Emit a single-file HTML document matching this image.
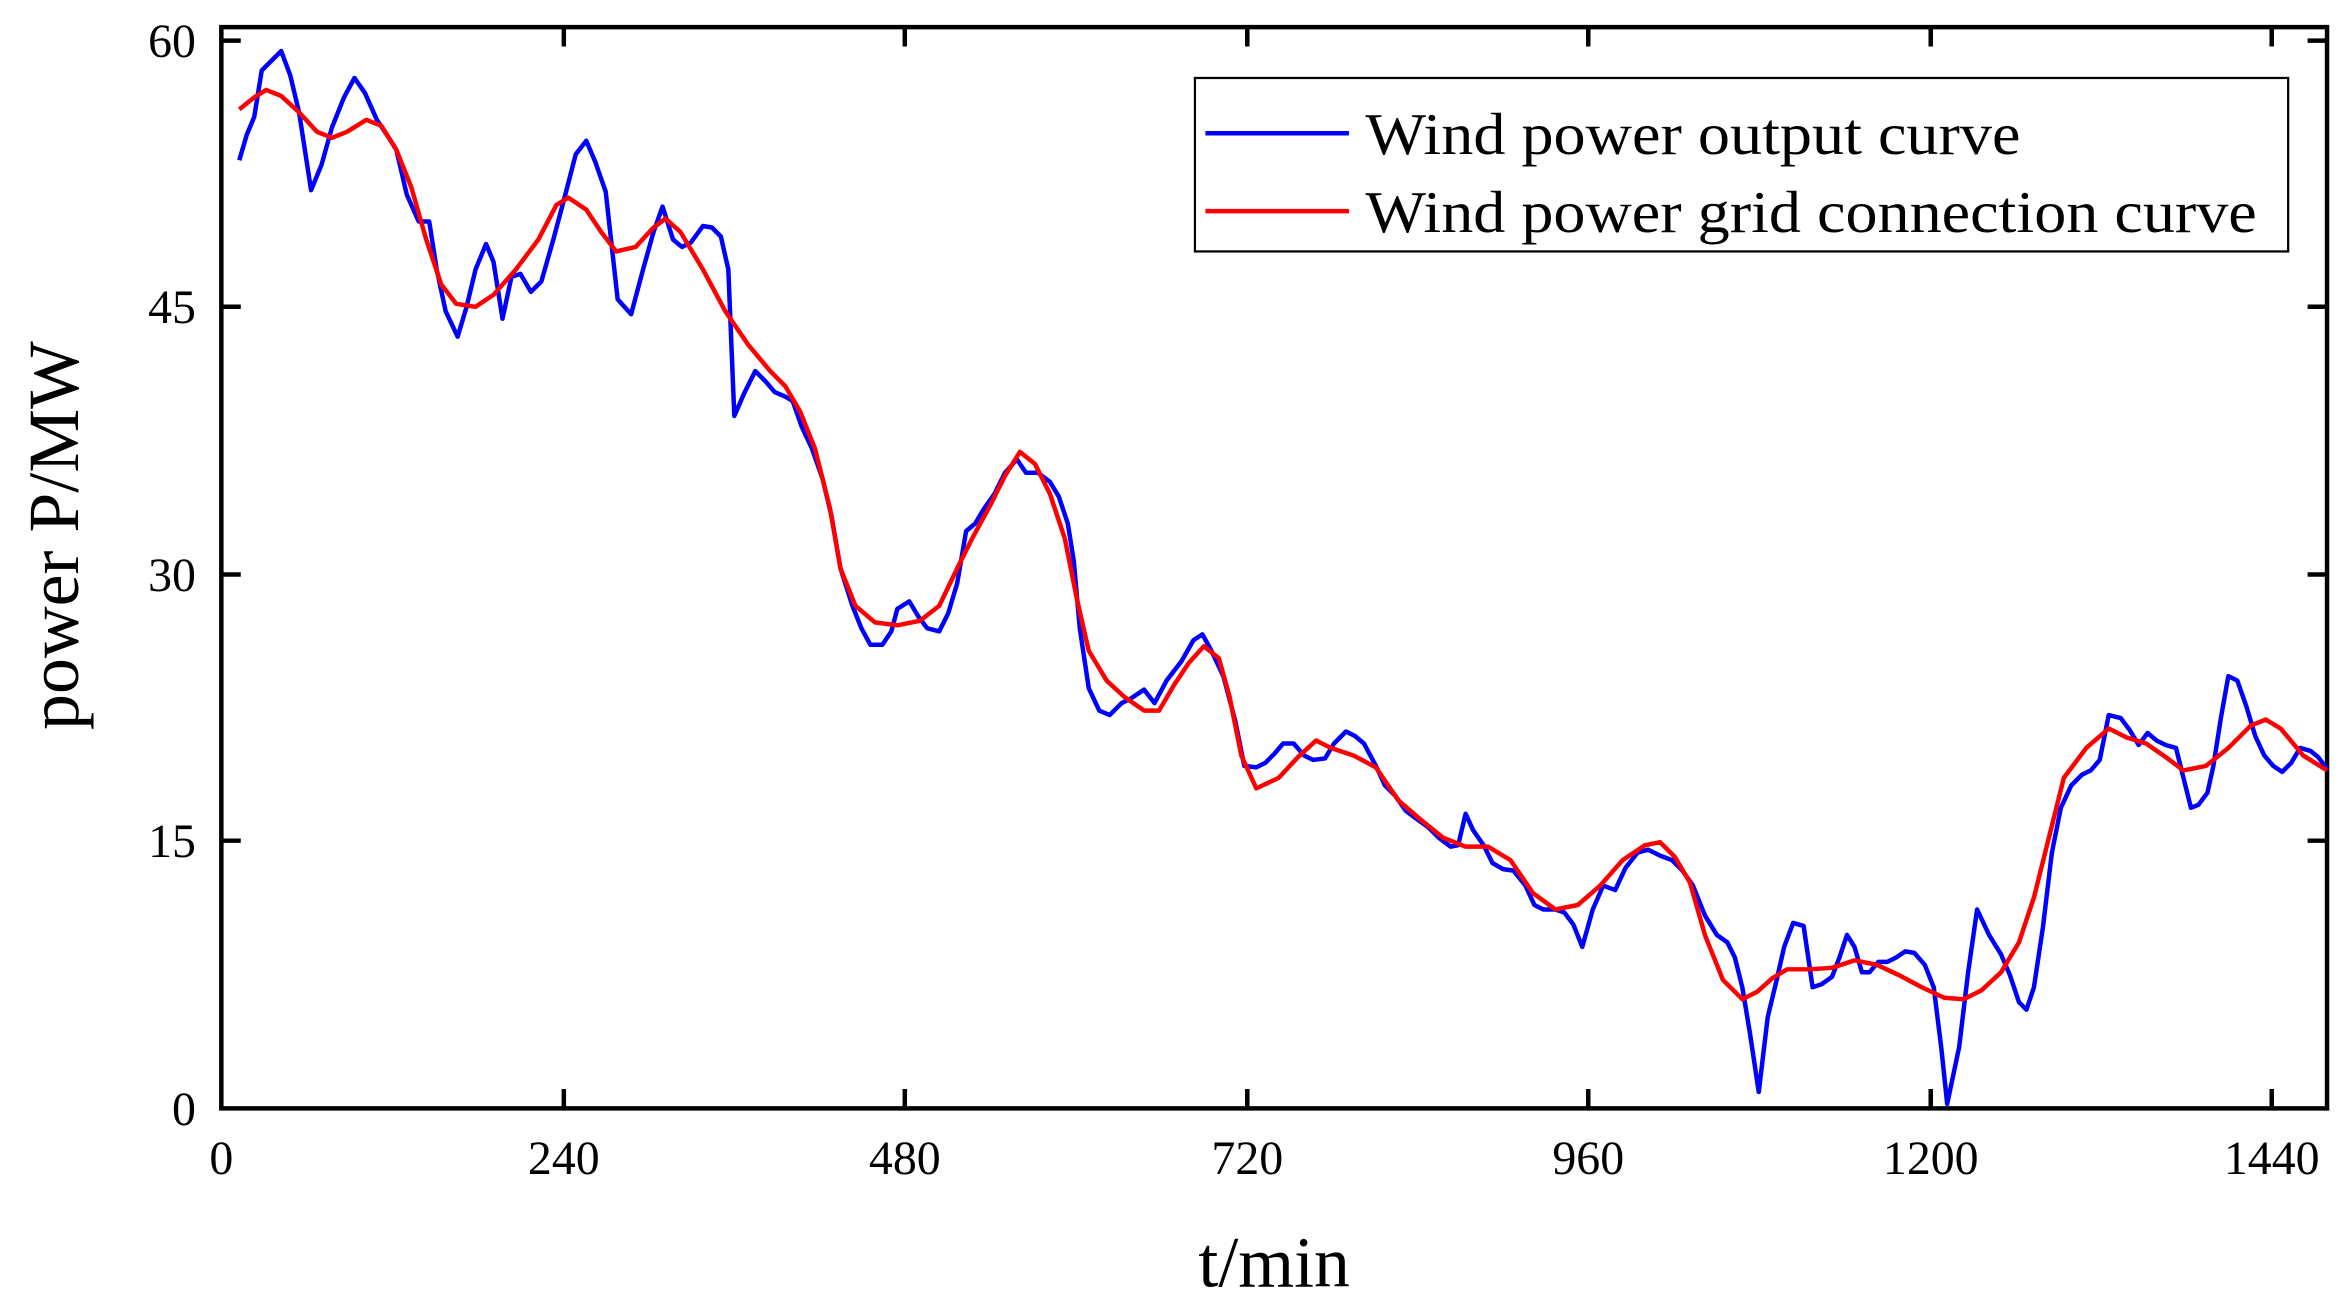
<!DOCTYPE html>
<html><head><meta charset="utf-8"><style>html,body{margin:0;padding:0;background:#fff}svg{display:block}</style></head>
<body>
<svg width="2345" height="1306" viewBox="0 0 1568 873" xmlns="http://www.w3.org/2000/svg" font-family="Liberation Serif, serif">
<rect width="1568" height="873" fill="#fff"/>
<g stroke="#000" stroke-width="3">
<rect x="148" y="18" width="1408" height="723" fill="none"/>
<path d="M377,741v-13M605,741v-13M834,741v-13M1062,741v-13M1291,741v-13M1519,741v-13M377,18v13M605,18v13M834,18v13M1062,18v13M1291,18v13M1519,18v13M148,562h13M148,384h13M148,205h13M148,27h13M1556,562h-13M1556,384h-13M1556,205h-13M1556,27h-13"/>
</g>
<g font-size="32" text-anchor="middle" fill="#000">
<text x="148" y="785">0</text><text x="377" y="785">240</text><text x="605" y="785">480</text><text x="834" y="785">720</text><text x="1062" y="785">960</text><text x="1291" y="785">1200</text><text x="1519" y="785">1440</text>
</g>
<g font-size="32" text-anchor="end" fill="#000">
<text x="131" y="752">0</text><text x="131" y="573">15</text><text x="131" y="395">30</text><text x="131" y="216">45</text><text x="131" y="38">60</text>
</g>
<text x="852" y="860" font-size="48" text-anchor="middle">t/min</text>
<text transform="translate(52,358) rotate(-90)" font-size="48" text-anchor="middle">power P/MW</text>
<polyline fill="none" stroke="#0000ff" stroke-width="3" stroke-linejoin="round" points="160,107 165,90 170,78 175,47 182,40 188,34 194,50 200,75 208,127 215,110 222,85 230,65 237,52 244,62 252,80 260,92 265,100 272,130 280,148 287,148 292,180 298,208 306,225 312,205 318,180 325,163 330,175 336,213 342,185 348,183 355,195 362,188 370,160 378,130 385,103 392,94 398,108 405,128 413,200 422,210 430,180 437,155 443,138 450,160 456,165 462,162 470,151 476,152 482,158 487,180 491,278 498,262 505,248 512,255 518,262 525,265 530,268 536,285 543,300 550,320 556,345 562,380 570,405 576,420 582,431 590,431 596,422 600,407 608,402 614,412 620,420 628,422 634,410 640,390 646,355 652,350 658,340 665,330 672,316 680,307 686,316 694,316 702,322 708,332 714,350 718,375 722,420 728,460 735,475 742,478 750,470 756,467 765,461 772,470 780,455 790,442 798,428 804,424 810,435 818,452 826,482 832,512 840,513 846,510 852,504 858,497 865,497 872,505 878,508 886,507 892,497 900,489 906,492 912,497 920,512 926,525 933,532 940,542 948,548 955,553 962,560 970,566 975,565 980,544 985,555 992,565 998,577 1005,581 1012,582 1020,592 1026,605 1032,608 1040,608 1046,610 1052,618 1058,633 1065,608 1072,592 1080,595 1087,580 1095,570 1102,568 1110,572 1118,575 1125,582 1132,592 1140,612 1148,625 1155,630 1160,640 1165,660 1170,690 1176,730 1182,680 1188,655 1193,633 1199,617 1206,619 1212,660 1218,658 1225,653 1230,640 1235,625 1240,633 1245,650 1250,650 1256,643 1262,643 1268,640 1274,636 1280,637 1287,645 1293,660 1298,700 1302,738 1310,700 1316,650 1322,608 1330,625 1338,638 1344,652 1350,670 1355,675 1360,660 1366,620 1372,570 1378,540 1385,525 1392,518 1398,515 1404,508 1410,478 1418,480 1424,488 1430,498 1436,490 1442,495 1448,498 1455,500 1460,520 1465,540 1470,538 1476,530 1480,512 1485,480 1490,452 1496,455 1502,472 1508,492 1514,505 1520,512 1526,516 1532,510 1538,500 1545,502 1550,506 1556,514"/>
<polyline fill="none" stroke="#ff0000" stroke-width="3" stroke-linejoin="round" points="160,73 170,65 178,60 188,64 200,75 212,88 222,92 232,88 245,80 255,84 265,100 275,125 285,160 295,190 305,203 318,205 330,197 345,180 360,160 372,137 380,132 392,140 402,155 412,168 425,165 437,152 445,146 455,155 470,180 485,208 500,230 515,248 525,258 535,275 545,300 555,340 562,380 572,405 585,416 600,418 615,415 628,405 640,380 650,360 662,338 672,318 682,302 692,310 702,330 712,360 720,400 728,435 740,455 752,466 765,475 775,475 785,458 795,443 805,432 815,440 822,465 830,505 840,527 855,520 868,506 880,495 890,500 905,505 920,513 935,535 950,548 965,560 980,566 995,566 1010,575 1025,597 1040,608 1055,605 1070,592 1085,575 1100,565 1110,563 1120,573 1130,590 1140,625 1152,655 1165,668 1175,663 1185,654 1195,648 1210,648 1225,647 1240,642 1255,645 1270,652 1285,660 1300,667 1313,668 1325,662 1338,650 1350,630 1360,600 1370,560 1380,520 1395,500 1410,487 1422,493 1435,497 1448,506 1460,515 1475,512 1490,500 1505,485 1515,481 1525,487 1540,505 1556,515"/>
<rect x="799" y="52" width="731" height="116" fill="#fff" stroke="#000" stroke-width="1.5"/>
<line x1="806" y1="89" x2="902" y2="89" stroke="#0000ff" stroke-width="3"/>
<line x1="806" y1="141" x2="902" y2="141" stroke="#ff0000" stroke-width="3"/>
<text x="913" y="103" font-size="40" textLength="438" lengthAdjust="spacingAndGlyphs">Wind power output curve</text>
<text x="913" y="155" font-size="40" textLength="596" lengthAdjust="spacingAndGlyphs">Wind power grid connection curve</text>
</svg>
</body></html>
